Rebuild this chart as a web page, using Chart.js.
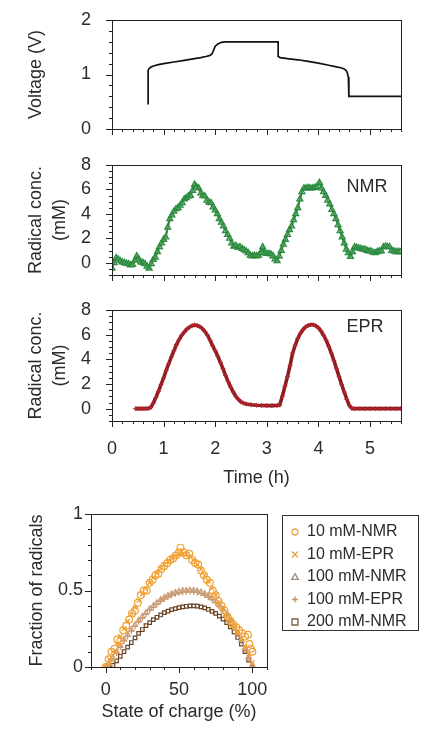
<!DOCTYPE html>
<html>
<head>
<meta charset="utf-8">
<title>Radical concentration during cycling</title>
<script src="https://cdn.jsdelivr.net/npm/chart.js@4.4.1/dist/chart.umd.min.js"></script>
<style>
  html, body { margin: 0; padding: 0; background: #fff; }
  body { width: 436px; height: 735px; position: relative; overflow: hidden; }
  canvas { position: absolute; left: 0; }
</style>
</head>
<body>
<canvas id="voltChart" width="436" height="140" style="top:0px"></canvas>
<canvas id="nmrChart" width="436" height="145" style="top:140px"></canvas>
<canvas id="eprChart" width="436" height="205" style="top:285px"></canvas>
<canvas id="fracChart" width="436" height="245" style="top:490px"></canvas>
<script>
// tick labels
const timeTicks = [0, 1, 2, 3, 4, 5];
const voltTicks = [0, 1, 2];
const concTicks = [0, 2, 4, 6, 8];
const socTicks = [0, 50, 100];
const fracTicks = [0, 0.5, 1];

// time (h), voltage (V)
const voltage = [
  [0.70,0.45],[0.70,1.08],[0.72,1.11],[0.76,1.14],[0.82,1.16],[0.90,1.18],[1.00,1.20],[1.20,1.23],[1.40,1.26],[1.60,1.29],
  [1.72,1.31],[1.82,1.33],[1.90,1.35],[1.94,1.38],[1.97,1.45],[2.00,1.52],[2.05,1.56],[2.12,1.59],[2.20,1.60],[3.22,1.60],
  [3.22,1.33],[3.26,1.31],[3.40,1.29],[3.60,1.27],[3.80,1.24],[4.00,1.21],[4.20,1.17],[4.35,1.14],[4.45,1.12],[4.50,1.10],
  [4.54,1.07],[4.56,1.03],[4.58,0.95],[4.59,0.80],[4.59,0.60],[5.60,0.60]
];

// time (h), radical conc. (mM) from NMR
const nmrConc = [
  [0.00,-0.45],[0.04,0.0],[0.08,0.4],[0.12,0.3],[0.16,0.15],[0.20,0.05],[0.24,0.0],[0.28,-0.05],[0.32,-0.1],[0.36,-0.2],
  [0.40,-0.15],[0.44,0.2],[0.48,0.55],[0.52,0.3],[0.56,0.05],[0.60,0.0],[0.64,-0.1],[0.68,-0.3],[0.72,-0.45],[0.76,-0.1],
  [0.80,0.25],[0.84,0.45],[0.88,0.9],[0.92,1.3],[0.96,1.6],[1.00,1.9],[1.04,2.1],[1.08,2.9],[1.12,3.6],[1.16,3.9],
  [1.20,4.2],[1.24,4.4],[1.28,4.5],[1.32,4.7],[1.36,4.9],[1.40,5.2],[1.44,5.3],[1.48,5.45],[1.52,5.5],[1.56,5.9],
  [1.60,6.4],[1.64,6.2],[1.68,6.1],[1.72,5.7],[1.76,5.5],[1.80,5.45],[1.84,5.1],[1.88,4.95],[1.92,4.9],[1.96,4.55],
  [2.00,4.3],[2.04,4.0],[2.08,3.6],[2.12,3.3],[2.16,3.0],[2.20,2.6],[2.24,2.3],[2.28,2.0],[2.32,1.6],[2.36,1.35],
  [2.40,1.4],[2.44,1.25],[2.48,1.3],[2.52,1.15],[2.56,1.05],[2.60,0.95],[2.64,0.8],[2.68,0.6],[2.72,0.55],[2.76,0.6],
  [2.80,0.55],[2.84,0.6],[2.88,0.8],[2.92,1.3],[2.96,0.8],[3.00,0.75],[3.04,0.75],[3.08,0.7],[3.12,0.55],[3.16,0.3],
  [3.20,0.15],[3.24,0.55],[3.28,1.0],[3.32,1.5],[3.36,1.9],[3.40,2.3],[3.44,2.7],[3.48,3.0],[3.52,3.5],[3.56,4.0],
  [3.60,4.5],[3.64,5.2],[3.68,5.8],[3.72,6.1],[3.76,6.1],[3.80,6.15],[3.84,6.1],[3.88,6.1],[3.92,6.15],[3.96,6.2],
  [4.02,6.55],[4.06,6.1],[4.10,5.8],[4.14,5.5],[4.18,5.1],[4.22,4.8],[4.26,4.35],[4.30,4.0],[4.34,3.6],[4.38,3.1],
  [4.42,2.6],[4.46,2.1],[4.50,1.6],[4.54,1.1],[4.58,0.8],[4.62,0.5],[4.66,0.9],[4.70,1.3],[4.74,1.25],[4.78,1.2],
  [4.82,1.15],[4.86,1.1],[4.90,1.1],[4.94,1.0],[4.98,0.95],[5.02,0.95],[5.06,0.85],[5.10,0.8],[5.14,0.9],[5.18,0.95],
  [5.22,0.95],[5.26,1.3],[5.30,1.35],[5.34,1.3],[5.38,1.3],[5.42,1.0],[5.46,0.95],[5.50,0.9],[5.54,0.9],[5.58,0.9]
];

// time (h), radical conc. (mM) from EPR
const eprConc = [
  [0.45,0.0],[0.50,0.0],[0.55,0.0],[0.60,0.0],[0.65,0.0],[0.70,0.02],[0.75,0.1],[0.80,0.45],[0.85,0.9],[0.90,1.4],
  [0.95,1.95],[1.00,2.5],[1.05,3.1],[1.10,3.65],[1.15,4.2],[1.20,4.7],[1.25,5.2],[1.30,5.6],[1.35,5.95],[1.40,6.2],
  [1.45,6.45],[1.50,6.6],[1.55,6.72],[1.60,6.78],[1.65,6.75],[1.70,6.65],[1.75,6.5],[1.80,6.25],[1.85,5.95],[1.90,5.55],
  [1.95,5.1],[2.00,4.7],[2.05,4.25],[2.10,3.75],[2.15,3.25],[2.20,2.7],[2.25,2.2],[2.30,1.75],[2.35,1.35],[2.40,1.0],
  [2.45,0.75],[2.50,0.55],[2.55,0.45],[2.60,0.38],[2.70,0.32],[2.80,0.28],[2.90,0.26],[3.00,0.25],[3.10,0.25],[3.20,0.27],
  [3.25,0.3],[3.30,1.0],[3.35,1.8],[3.40,2.6],[3.45,3.5],[3.50,4.5],[3.55,5.15],[3.60,5.7],[3.65,6.1],[3.70,6.4],
  [3.75,6.62],[3.80,6.74],[3.85,6.8],[3.90,6.8],[3.95,6.72],[4.00,6.55],[4.05,6.3],[4.10,5.95],[4.15,5.55],[4.20,5.05],
  [4.25,4.5],[4.30,3.9],[4.35,3.25],[4.40,2.6],[4.45,1.95],[4.50,1.35],[4.55,0.75],[4.60,0.25],[4.65,0.02],[4.70,0.0],
  [4.80,0.0],[4.90,0.0],[5.00,0.0],[5.10,0.0],[5.20,0.0],[5.30,0.0],[5.40,0.0],[5.50,0.0],[5.60,0.0]
];

// state of charge (%) and fraction of radicals
const seriesNames = ['10 mM-NMR', '10 mM-EPR', '100 mM-NMR', '100 mM-EPR', '200 mM-NMR'];
const soc = [0,2.5,5,7.5,10,12.5,15,17.5,20,22.5,25,27.5,30,32.5,35,37.5,40,42.5,45,47.5,50,
  52.5,55,57.5,60,62.5,65,67.5,70,72.5,75,77.5,80,82.5,85,87.5,90,92.5,95,97.5,100];
const epr10 = [0.00,0.05,0.10,0.15,0.20,0.25,0.30,0.345,0.39,0.435,0.475,0.515,0.55,0.585,0.615,0.645,0.67,0.69,0.71,0.725,0.735,
  0.74,0.735,0.72,0.70,0.67,0.64,0.60,0.56,0.515,0.47,0.425,0.38,0.34,0.30,0.26,0.22,0.18,0.135,0.085,0.03];
const nmr100 = [0.00,0.02,0.06,0.10,0.14,0.18,0.21,0.245,0.275,0.305,0.33,0.355,0.38,0.40,0.42,0.44,0.455,0.468,0.478,0.487,0.493,
  0.498,0.50,0.502,0.50,0.497,0.49,0.48,0.467,0.45,0.43,0.405,0.378,0.345,0.31,0.27,0.225,0.175,0.12,0.065,0.01];
const epr100 = [0.00,0.015,0.05,0.09,0.13,0.17,0.20,0.235,0.265,0.295,0.32,0.345,0.37,0.39,0.41,0.43,0.445,0.458,0.468,0.477,0.484,
  0.489,0.492,0.493,0.491,0.487,0.48,0.47,0.457,0.44,0.42,0.396,0.368,0.336,0.30,0.262,0.218,0.17,0.115,0.06,0.005];
const nmr200 = [null,0.00,0.01,0.04,0.07,0.10,0.13,0.16,0.19,0.22,0.245,0.27,0.29,0.31,0.325,0.34,0.355,0.365,0.375,0.382,0.388,
  0.393,0.397,0.40,0.40,0.398,0.393,0.386,0.376,0.364,0.35,0.333,0.313,0.29,0.262,0.23,0.193,0.15,0.10,0.045,0.0];
const socNmr10 = [0,2,4,6,8,10,12,14,16,18,20,22,24,26,28,30,32,34,36,38,40,42,44,46,48,50,
  51,53,55,57,59,61,63,65,67,69,71,73,75,77,79,81,83,85,87,89,91,93,95,97,98,99,100];
const nmr10 = [0.0,0.05,0.1,0.12,0.18,0.17,0.24,0.27,0.31,0.35,0.37,0.42,0.47,0.5,0.5,0.55,0.57,0.6,0.61,0.64,0.66,0.68,0.7,0.71,0.73,0.75,
  0.78,0.75,0.73,0.74,0.7,0.68,0.67,0.63,0.6,0.57,0.55,0.5,0.47,0.43,0.4,0.37,0.33,0.3,0.28,0.26,0.24,0.22,0.2,0.21,0.15,0.12,0.1];

const INK = '#2b2b2b';
const FONT = '"Liberation Sans", Arial, Helvetica, sans-serif';
Chart.defaults.font.family = FONT;
Chart.defaults.font.size = 18;
Chart.defaults.color = INK;

function pts(list) {
  return list.map(p => ({x: p[0], y: p[1]}));
}
function pair(xs, ys) {
  return xs.map((x, i) => ({x: x, y: ys[i]}));
}

function eachTick(scale, step, major, fn) {
  const i0 = Math.ceil(scale.min / step - 1e-6);
  const i1 = Math.floor(scale.max / step + 1e-6);
  for (let i = i0; i <= i1; i++) {
    const r = i * step / major;
    fn(scale.getPixelForValue(i * step), Math.abs(r - Math.round(r)) < 1e-6);
  }
}

function drawMark(ctx, style, x, y, r, color) {
  ctx.save();
  ctx.strokeStyle = color;
  ctx.lineWidth = 1.3;
  ctx.beginPath();
  if (style === 'circle') {
    ctx.arc(x, y, r, 0, Math.PI * 2);
  } else if (style === 'rect') {
    ctx.rect(x - r, y - r, 2 * r, 2 * r);
  } else if (style === 'triangle') {
    ctx.moveTo(x, y - r * 1.1);
    ctx.lineTo(x + r * 1.1, y + r * 0.8);
    ctx.lineTo(x - r * 1.1, y + r * 0.8);
    ctx.closePath();
  } else if (style === 'cross') {
    ctx.moveTo(x - r, y); ctx.lineTo(x + r, y);
    ctx.moveTo(x, y - r); ctx.lineTo(x, y + r);
  } else {
    ctx.moveTo(x - r, y - r); ctx.lineTo(x + r, y + r);
    ctx.moveTo(x + r, y - r); ctx.lineTo(x - r, y + r);
  }
  ctx.stroke();
  ctx.restore();
}

// box round the plot, outward major/minor ticks, panel tag and boxed legend
const frame = {
  id: 'frame',
  afterDatasetsDraw(chart, args, o) {
    const {ctx, chartArea: a, scales} = chart;
    ctx.save();
    ctx.strokeStyle = '#222';
    ctx.lineWidth = 1;
    ctx.strokeRect(Math.round(a.left) + 0.5, Math.round(a.top) + 0.5,
      Math.round(a.right - a.left), Math.round(a.bottom - a.top));
    ctx.beginPath();
    eachTick(scales.x, o.xMinor, o.xMajor, (px, major) => {
      const x = Math.round(px) + 0.5;
      ctx.moveTo(x, a.bottom);
      ctx.lineTo(x, a.bottom + (major ? 6 : 3));
    });
    eachTick(scales.y, o.yMinor, o.yMajor, (py, major) => {
      const y = Math.round(py) + 0.5;
      ctx.moveTo(a.left, y);
      ctx.lineTo(a.left - (major ? 6 : 3), y);
    });
    ctx.stroke();
    if (o.tag) {
      ctx.font = '18px ' + FONT;
      ctx.fillStyle = INK;
      ctx.textAlign = 'center';
      ctx.textBaseline = 'middle';
      ctx.fillText(o.tag, a.right - o.tagDx, a.top + o.tagDy);
    }
    if (o.legend) {
      const L = o.legend;
      ctx.strokeStyle = '#333';
      ctx.strokeRect(L.left + 0.5, L.top + 0.5, L.width, L.height);
      ctx.font = '16px ' + FONT;
      ctx.fillStyle = INK;
      ctx.textAlign = 'left';
      ctx.textBaseline = 'middle';
      chart.data.datasets.forEach((ds, i) => {
        const y = L.top + L.first + i * L.step;
        drawMark(ctx, ds.pointStyle, L.left + L.markX, y, 3, ds.legendColor);
        ctx.fillText(ds.label, L.left + L.textX, y);
      });
    }
    ctx.restore();
  }
};

function axis(min, max, ticks, o) {
  return {
    type: 'linear',
    min: min,
    max: max,
    afterBuildTicks: scale => { scale.ticks = ticks.map(v => ({value: v})); },
    afterFit: s => {
      if (o.horizontal) s.height = o.size; else s.width = o.size;
      // keep the label overhang from shrinking the plot area
      s.paddingTop = 0; s.paddingBottom = 0; s.paddingLeft = 0; s.paddingRight = 0;
    },
    grid: {display: false, drawTicks: false},
    border: {display: false},
    ticks: {display: o.labels !== false, padding: o.pad || 0, autoSkip: false, maxRotation: 0, color: INK,
      callback: v => String(v)},
    title: o.title ? {display: true, text: o.title, color: INK, padding: o.titlePad,
      font: {size: 18, lineHeight: o.lh || 1.2}} : {display: false}
  };
}

function panel(id, datasets, padding, x, y, frameOpts) {
  return new Chart(document.getElementById(id), {
    type: 'scatter',
    data: {datasets: datasets},
    options: {
      responsive: false,
      animation: false,
      layout: {padding: padding},
      plugins: {legend: {display: false}, tooltip: {enabled: false}, frame: frameOpts},
      scales: {x: x, y: y}
    },
    plugins: [frame]
  });
}

// voltage
panel('voltChart', [{
    data: pts(voltage), showLine: true, borderColor: '#111', borderWidth: 1.7, pointRadius: 0
  }],
  {top: 20, right: 35, left: 0, bottom: 0},
  axis(0, 5.6, timeTicks, {horizontal: true, size: 11, labels: false}),
  axis(0, 2, voltTicks, {size: 112, pad: 21, title: 'Voltage (V)', titlePad: {top: 25, bottom: 0}}),
  {xMinor: 0.2, xMajor: 1, yMinor: 0.2, yMajor: 1}
);

// NMR
panel('nmrChart', [{
    data: pts(nmrConc), showLine: true, borderColor: '#2b8a3e', borderWidth: 2.2,
    pointStyle: 'triangle', pointRadius: 3.4, pointBorderWidth: 1.3,
    pointBorderColor: '#2b8a3e', pointBackgroundColor: 'rgba(120,190,130,0.35)'
  }],
  {top: 25, right: 35, left: 0, bottom: 0},
  axis(0, 5.6, timeTicks, {horizontal: true, size: 10, labels: false}),
  axis(-1, 8, concTicks, {size: 112, pad: 21, title: ['Radical conc.', '(mM)'], lh: 1.33, titlePad: {top: 24, bottom: 0}}),
  {xMinor: 0.2, xMajor: 1, yMinor: 0.5, yMajor: 2, tag: 'NMR', tagDx: 34, tagDy: 22}
);

// EPR
panel('eprChart', [{
    data: pts(eprConc), showLine: true, borderColor: '#8f1b22', borderWidth: 3.6,
    pointStyle: 'cross', pointRadius: 2.4, pointBorderWidth: 1,
    pointBorderColor: '#b3262d', pointBackgroundColor: '#b3262d'
  }],
  {top: 25, right: 35, left: 0, bottom: 0},
  axis(0, 5.6, timeTicks, {horizontal: true, size: 69, pad: 17, title: 'Time (h)', titlePad: {top: 0, bottom: 1}}),
  axis(-1, 8, concTicks, {size: 112, pad: 21, title: ['Radical conc.', '(mM)'], lh: 1.33, titlePad: {top: 24, bottom: 0}}),
  {xMinor: 0.2, xMajor: 1, yMinor: 0.5, yMajor: 2, tag: 'EPR', tagDx: 36, tagDy: 17}
);

// fraction of radicals vs state of charge
const hollow = 'rgba(255,255,255,0)';
panel('fracChart', [
    {label: seriesNames[0], data: pair(socNmr10, nmr10), pointStyle: 'circle', pointRadius: 3.4,
      borderColor: '#f0a030', backgroundColor: hollow, borderWidth: 1.2, legendColor: '#e8a94c'},
    {label: seriesNames[1], data: pair(soc, epr10), pointStyle: 'crossRot', pointRadius: 3,
      borderColor: '#eda03a', backgroundColor: hollow, borderWidth: 1.2, legendColor: '#e8a046'},
    {label: seriesNames[2], data: pair(soc, nmr100), pointStyle: 'triangle', pointRadius: 3,
      borderColor: '#c49c7c', backgroundColor: hollow, borderWidth: 1.2, legendColor: '#9e8c7e'},
    {label: seriesNames[3], data: pair(soc, epr100), pointStyle: 'cross', pointRadius: 3,
      borderColor: '#d0935a', backgroundColor: hollow, borderWidth: 1.2, legendColor: '#c8905e'},
    {label: seriesNames[4], data: pair(soc, nmr200), pointStyle: 'rect', pointRadius: 2.5,
      borderColor: '#6b4426', backgroundColor: hollow, borderWidth: 1.2, legendColor: '#7d6048'}
  ],
  {top: 24, right: 169, left: 0, bottom: 0},
  axis(-10, 110, socTicks, {horizontal: true, size: 68, pad: 12, title: 'State of charge (%)', titlePad: {top: 0, bottom: 12}}),
  axis(0, 1, fracTicks, {size: 91, pad: 8, title: 'Fraction of radicals', titlePad: {top: 26, bottom: 0}}),
  {xMinor: 10, xMajor: 50, yMinor: 0.1, yMajor: 0.5,
    legend: {left: 282, top: 25, width: 136, height: 115, first: 17, step: 22.5, markX: 13, textX: 25}}
);
</script>
</body>
</html>
